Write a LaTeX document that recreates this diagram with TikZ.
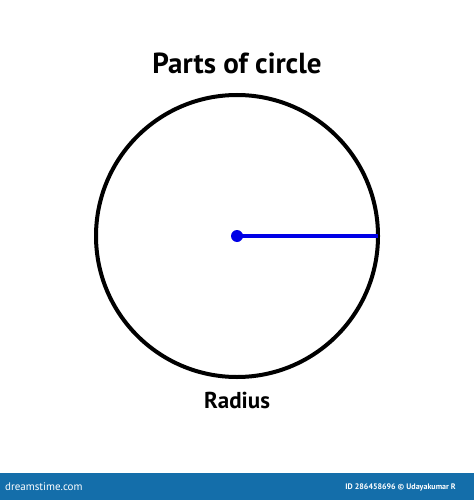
\documentclass[tikz,border=0pt]{standalone}
\usepackage{fontspec}
\setmainfont{PT Sans}
\definecolor{radblue}{RGB}{0,0,230}
\definecolor{barblue}{RGB}{20,110,170}
\begin{document}
\begin{tikzpicture}[x=1pt,y=-1pt,
  titlestyle/.style={font=\bfseries\fontsize{29}{32}\selectfont, inner sep=0pt},
  labelstyle/.style={font=\bfseries\fontsize{23}{26}\selectfont, inner sep=0pt},
  bartext/.style={text=white, inner sep=0pt},
  circ/.style={draw=black, line width=4pt},
  radline/.style={draw=radblue, line width=4pt}]
\useasboundingbox (0,0) rectangle (474,500);
\fill[white] (0,0) rectangle (474,500);
\node[titlestyle] (title) at (237,63) {Parts of circle};
\node[circle, circ, minimum size=282pt, inner sep=0pt] (c) at (237,236) {};
\coordinate (o) at (237,236);
\coordinate (e) at (378,236);
\draw[radline] (o) -- (e);
\node[circle, fill=radblue, minimum size=12pt, inner sep=0pt] (dot) at (o) {};
\node[labelstyle] (rad) at (237,400) {Radius};
\fill[barblue] (0,473) rectangle (474,500);
\node[bartext, anchor=west, font=\fontsize{11}{13}\selectfont] (brand) at (5,487) {dreamstime.com};
\node[bartext, anchor=east, font=\bfseries\fontsize{8}{10}\selectfont] (credit) at (456,487) {ID 286458696 © Udayakumar R};
\end{tikzpicture}
\end{document}
